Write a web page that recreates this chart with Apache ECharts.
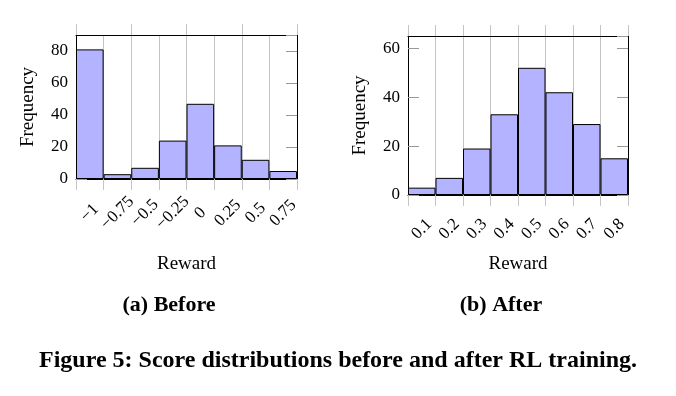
<!DOCTYPE html>
<html>
<head>
<meta charset="utf-8">
<script src="https://cdn.jsdelivr.net/npm/echarts@6/dist/echarts.min.js"></script>
<style>
  html, body { margin: 0; padding: 0; background: #fff; }
  #chart { width: 676px; height: 396px; }
</style>
</head>
<body>
<div id="chart"></div>
<script>
// histogram bins
const beforeBins = ['\u22121', '\u22120.75', '\u22120.5', '\u22120.25', '0', '0.25', '0.5', '0.75'];
const beforeCounts = [81, 3, 7, 24, 47, 21, 12, 5];
const afterBins = ['0.1', '0.2', '0.3', '0.4', '0.5', '0.6', '0.7', '0.8'];
const afterCounts = [3, 7, 19, 33, 52, 42, 29, 15];

const FONT = '"Liberation Serif", "DejaVu Serif", serif';
const GRID_GREY = '#c4c4c4';

const chart = echarts.init(document.getElementById('chart'));

function xAxes(gridIndex, bins, labelMargin, nameGap) {
  return [{
    type: 'category', gridIndex, data: bins, position: 'bottom',
    boundaryGap: true,
    name: 'Reward', nameLocation: 'middle', nameGap,
    nameTextStyle: { fontFamily: FONT, fontSize: 19, color: '#000' },
    axisLine: { onZero: false, lineStyle: { color: '#000', width: 1 } },
    axisTick: { show: true, inside: false, length: 11, lineStyle: { color: GRID_GREY } },
    splitLine: { show: true, lineStyle: { color: GRID_GREY, width: 1 } },
    axisLabel: {
      rotate: 45, align: 'center', verticalAlign: 'middle', margin: labelMargin,
      fontFamily: FONT, fontSize: 17, color: '#000', interval: 0
    }
  }, {
    type: 'category', gridIndex, data: bins, position: 'top',
    boundaryGap: true,
    axisLine: { onZero: false, lineStyle: { color: '#000', width: 1 } },
    axisTick: { show: true, inside: false, length: 11, lineStyle: { color: GRID_GREY } },
    axisLabel: { show: false },
    splitLine: { show: false }
  }];
}

function yAxes(gridIndex, max) {
  return [{
    type: 'value', gridIndex, min: 0, max, interval: 20, position: 'left',
    name: 'Frequency', nameLocation: 'middle', nameRotate: 90, nameGap: 38,
    nameTextStyle: { fontFamily: FONT, fontSize: 19, color: '#000' },
    axisLine: { show: true, onZero: false, lineStyle: { color: '#000', width: 1 } },
    axisTick: { show: true, inside: true, length: 11, lineStyle: { color: '#999' } },
    splitLine: { show: false },
    axisLabel: { fontFamily: FONT, fontSize: 17, color: '#000', margin: 8, showMaxLabel: false }
  }, {
    type: 'value', gridIndex, min: 0, max, interval: 20, position: 'right',
    axisLine: { show: true, onZero: false, lineStyle: { color: '#000', width: 1 } },
    axisTick: { show: true, inside: true, length: 11, lineStyle: { color: '#999' } },
    splitLine: { show: false },
    axisLabel: { show: false }
  }];
}

const barStyle = { color: '#b3b3ff', borderColor: '#000', borderWidth: 1 };

chart.setOption({
  animation: false,
  grid: [
    { left: 76, top: 35, width: 221, height: 144 },
    { left: 408, top: 36, width: 220, height: 159 }
  ],
  xAxis: [...xAxes(0, beforeBins, 34, 76), ...xAxes(1, afterBins, 34, 60)],
  yAxis: [...yAxes(0, 90), ...yAxes(1, 65)],
  series: [
    { type: 'bar', xAxisIndex: 0, yAxisIndex: 0, data: beforeCounts,
      barCategoryGap: 0, itemStyle: barStyle },
    { type: 'bar', xAxisIndex: 2, yAxisIndex: 2, data: afterCounts,
      barCategoryGap: 0, itemStyle: barStyle }
  ],
  graphic: [
    { type: 'text', x: 169, y: 305, style: { text: '(a) Before', font: 'bold 22px ' + FONT,
      fill: '#000', textAlign: 'center', textVerticalAlign: 'middle' } },
    { type: 'text', x: 501, y: 305, style: { text: '(b) After', font: 'bold 22px ' + FONT,
      fill: '#000', textAlign: 'center', textVerticalAlign: 'middle' } },
    { type: 'text', x: 338, y: 361, style: { text: 'Figure 5: Score distributions before and after RL training.',
      font: 'bold 24px ' + FONT, fill: '#000', textAlign: 'center', textVerticalAlign: 'middle' } }
  ]
});
</script>
</body>
</html>
